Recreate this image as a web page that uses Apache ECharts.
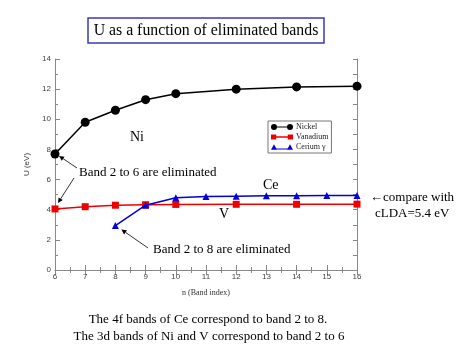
<!DOCTYPE html>
<html><head><meta charset="utf-8">
<script src="https://cdn.jsdelivr.net/npm/echarts@6/dist/echarts.min.js"></script>
<style>html,body{margin:0;padding:0;background:#fff}#c{width:474px;height:355px}</style>
</head><body><div id="c"></div>
<script>
const niX = [6,7,8,9,10,12,14,16];
const niU = [7.7,9.8,10.6,11.3,11.7,12.0,12.15,12.2];
const vX = [6,7,8,9,10,12,14,16];
const vU = [4.05,4.2,4.3,4.33,4.35,4.36,4.36,4.37];
const ceX = [8,9,10,11,12,13,14,15,16];
const ceU = [2.95,4.3,4.8,4.88,4.9,4.92,4.93,4.94,4.95];
const xTicks = [6,7,8,9,10,11,12,13,14,15,16];
const yTicks = [0,2,4,6,8,10,12,14];

const serif = '"Liberation Serif","DejaVu Serif",serif';
const sans = '"Liberation Sans","DejaVu Sans",sans-serif';
const zip = (xs, ys) => xs.map((x,i)=>[x, ys[i]]);
const chart = echarts.init(document.getElementById('c'));
const axisCol = '#888';
const iconCircle = 'path://M0,3A3,3 0 1,1 6,3A3,3 0 1,1 0,3ZM16,3A3,3 0 1,1 22,3A3,3 0 1,1 16,3ZM5,2.4L17,2.4L17,3.6L5,3.6Z';
const iconRect = 'path://M0.5,0.5L5.5,0.5L5.5,5.5L0.5,5.5ZM16.5,0.5L21.5,0.5L21.5,5.5L16.5,5.5ZM5,2.4L17,2.4L17,3.6L5,3.6Z';
const iconTri = 'path://M0,6L3,0.5L6,6ZM16,6L19,0.5L22,6ZM5,4.8L17,4.8L17,5.8L5,5.8Z';
chart.setOption({
  animation:false,
  backgroundColor:'#fff',
  grid:{left:55,right:117,top:59,bottom:85,containLabel:false},
  legend:{
    data:[{name:'Nickel',icon:iconCircle},{name:'Vanadium',icon:iconRect},{name:'Cerium γ',icon:iconTri}],
    orient:'vertical', left:268, top:121,
    itemWidth:22, itemHeight:6, itemGap:2,
    padding:[2,3,2,3],
    borderColor:'#777', borderWidth:1,
    textStyle:{fontFamily:serif,fontSize:8,color:'#222',padding:[0,0,0,-2]}
  },
  xAxis:[{
    type:'value', min:6, max:16, interval:1, position:'bottom',
    name:'n (Band index)', nameLocation:'middle', nameGap:19,
    nameTextStyle:{fontFamily:serif,fontSize:8,color:'#333'},
    axisLine:{show:true,lineStyle:{color:axisCol}},
    axisTick:{show:true,inside:true,length:5,lineStyle:{color:axisCol}},
    minorTick:{show:true,splitNumber:2,length:3,lineStyle:{color:axisCol}},
    axisLabel:{fontFamily:sans,fontSize:8,color:'#444',margin:3,
      formatter:v=>xTicks.includes(v)?String(v):''},
    splitLine:{show:false}
  },{
    type:'value', min:6, max:16, interval:1, position:'top',
    axisLine:{show:true,lineStyle:{color:axisCol}},
    axisTick:{show:true,inside:true,length:5,lineStyle:{color:axisCol}},
    minorTick:{show:true,splitNumber:2,length:3,lineStyle:{color:axisCol}},
    axisLabel:{show:false}, splitLine:{show:false}
  }],
  yAxis:[{
    type:'value', min:0, max:14, interval:2, position:'left',
    name:'U (eV)', nameLocation:'middle', nameGap:17, nameRotate:90,
    nameTextStyle:{fontFamily:sans,fontSize:8,color:'#333'},
    axisLine:{show:true,lineStyle:{color:axisCol}},
    axisTick:{show:true,inside:true,length:5,lineStyle:{color:axisCol}},
    minorTick:{show:true,splitNumber:2,length:3,lineStyle:{color:axisCol}},
    axisLabel:{fontFamily:sans,fontSize:8,color:'#444',margin:4,
      formatter:v=>yTicks.includes(v)?String(v):''},
    splitLine:{show:false}
  },{
    type:'value', min:0, max:14, interval:1, position:'right',
    axisLine:{show:true,lineStyle:{color:axisCol}},
    axisTick:{show:true,inside:true,length:4,lineStyle:{color:axisCol}},
    axisLabel:{show:false}, splitLine:{show:false}
  }],
  series:[
    {name:'Nickel',type:'line',data:zip(niX,niU),symbol:'circle',symbolSize:9,
     itemStyle:{color:'#000'},lineStyle:{color:'#000',width:1.5},z:3},
    {name:'Vanadium',type:'line',data:zip(vX,vU),symbol:'rect',symbolSize:7,
     itemStyle:{color:'#ee0000'},lineStyle:{color:'#ee0000',width:1.5},z:2},
    {name:'Cerium γ',type:'line',data:zip(ceX,ceU),symbol:'triangle',symbolSize:7,
     itemStyle:{color:'#0000dd'},lineStyle:{color:'#0000dd',width:1.5},z:4}
  ]
});

function px(x,y){return chart.convertToPixel({xAxisIndex:0,yAxisIndex:0},[x,y]);}
function arrow(from,to){
  const dx=to[0]-from[0], dy=to[1]-from[1], L=Math.hypot(dx,dy);
  const ux=dx/L, uy=dy/L, h=5, w=2.5;
  const bx=to[0]-ux*h, by=to[1]-uy*h;
  return [
    {type:'line',shape:{x1:from[0],y1:from[1],x2:bx,y2:by},style:{stroke:'#000',lineWidth:0.8},z:10},
    {type:'polygon',shape:{points:[[to[0],to[1]],[bx-uy*w,by+ux*w],[bx+uy*w,by-ux*w]]},style:{fill:'#000'},z:10}
  ];
}
const pNi = px(niX[0],niU[0]); const pV = px(vX[0],vU[0]); const pCe = px(ceX[0],ceU[0]);
const txt = (x,y,s,size,align)=>({type:'text',x:x,y:y,style:{text:s,fontFamily:serif,fontSize:size,fill:'#000',textAlign:align||'left',textVerticalAlign:'middle'},z:10});
chart.setOption({graphic:[
  {type:'rect',shape:{x:88,y:18,width:236,height:25},style:{fill:'#fff',stroke:'#3a3ab8',lineWidth:1.5},z:10},
  txt(206,31,'U as a function of eliminated bands',15.8,'center'),
  txt(130,137,'Ni',14),
  txt(79,173,'Band 2 to 6 are eliminated',13),
  txt(263,185,'Ce',14),
  txt(219,214,'V',14),
  txt(153,250,'Band 2 to 8 are eliminated',13),
  txt(370,198,'\u2190compare with',13),
  txt(375,214,'cLDA=5.4 eV',13),
  txt(208,320,'The 4f bands of Ce correspond to band 2 to 8.',13,'center'),
  txt(209,337,'The 3d bands of Ni and V correspond to band 2 to 6',13,'center'),
  ...arrow([77,168],[pNi[0]+4,pNi[1]+2]),
  ...arrow([74,178],[pV[0]+3,pV[1]-6]),
  ...arrow([148,248],[pCe[0]+6,pCe[1]+4])
]});
</script></body></html>
